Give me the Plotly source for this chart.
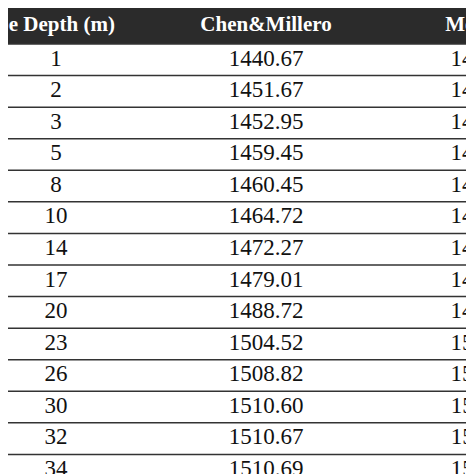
import plotly.graph_objects as go

headers = ["be Depth (m)", "Chen&Millero", "Medwin"]
depths = ["1", "2", "3", "5", "8", "10", "14", "17", "20", "23", "26", "30", "32", "34"]
chen = ["1440.67", "1451.67", "1452.95", "1459.45", "1460.45", "1464.72", "1472.27",
        "1479.01", "1488.72", "1504.52", "1508.82", "1510.60", "1510.67", "1510.69"]
medwin = ["1440.6", "1451.7", "1452.9", "1459.4", "1460.4", "1464.7", "1472.2",
          "1479.0", "1488.7", "1504.5", "1509.8", "1511.6", "1511.6", "1511.7"]

W = 474
col_x = [48, 258, 474]
head_h = 36
row_h = (478 - head_h) / len(depths)

fig = go.Figure()
fig.add_shape(type="rect", x0=0, x1=W, y0=0, y1=head_h, fillcolor="#2b2b2b", line_width=0, layer="below")
for i in range(len(depths) + 1):
    y = head_h + i * row_h
    fig.add_shape(type="line", x0=0, x1=W, y0=y, y1=y, line=dict(color="#333", width=1.5))

ys = [head_h + (i + 0.5) * row_h for i in range(len(depths))]
for cx, col in zip(col_x, [depths, chen, medwin]):
    fig.add_trace(go.Scatter(x=[cx] * len(col), y=ys, text=col, mode="text",
                             textfont=dict(family="Liberation Serif", size=23, color="#111"),
                             showlegend=False, hoverinfo="skip", cliponaxis=False))
fig.add_trace(go.Scatter(x=col_x, y=[head_h / 2] * 3, text=["<b>%s</b>" % h for h in headers],
                         mode="text", textfont=dict(family="Liberation Serif", size=21, color="white"),
                         showlegend=False, hoverinfo="skip", cliponaxis=False))

fig.update_layout(width=W, height=474, margin=dict(l=0, r=0, t=0, b=0),
                  plot_bgcolor="white", paper_bgcolor="white",
                  xaxis=dict(range=[0, W], visible=False, fixedrange=True),
                  yaxis=dict(range=[474, 0], visible=False, fixedrange=True))
fig.write_html("out.html")
